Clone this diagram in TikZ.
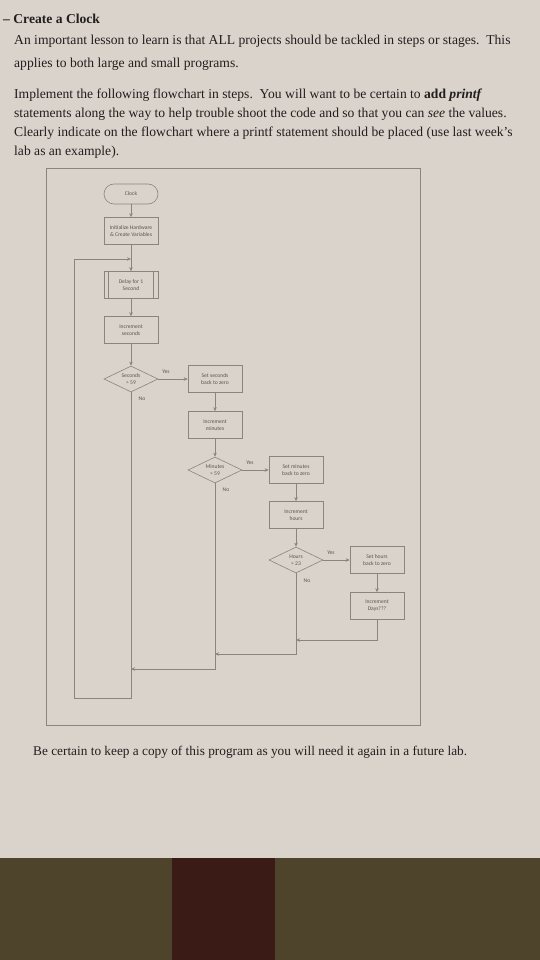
\documentclass[tikz,border=0pt]{standalone}
\usepackage{fontspec}
\setmainfont{Liberation Serif}
\newfontfamily\chartfont{Carlito}
\usetikzlibrary{shapes.geometric, arrows.meta}
\definecolor{paper}{HTML}{D9D3CC}
\definecolor{carpet}{HTML}{4E432B}
\definecolor{rug}{HTML}{3A1B15}
\definecolor{ink}{HTML}{221E1C}
\definecolor{flowgray}{HTML}{8A847E}
\definecolor{flowtext}{HTML}{5A5550}
\begin{document}
\begin{tikzpicture}[x=1pt, y=-1pt,
    box/.style={rectangle, draw=flowgray, line width=0.6pt, minimum width=54pt, minimum height=27pt, align=center, font=\chartfont\fontsize{5.6}{6.8}\selectfont, text=flowtext, inner sep=1pt},
    termbox/.style={box, rounded corners=10pt, minimum height=20pt},
    decbox/.style={box, diamond, aspect=2, minimum width=54pt, minimum height=26pt, inner sep=0pt},
    lbl/.style={font=\chartfont\fontsize{5.6}{6.8}\selectfont, text=flowtext, inner sep=0pt},
    arrow/.style={-{Stealth[length=4pt, width=3.5pt]}, draw=flowgray, line width=0.6pt},
    line/.style={draw=flowgray, line width=0.6pt},
    para/.style={anchor=west, align=left, font=\fontsize{13.6}{19}\selectfont, text=ink, inner sep=0pt}
]
\useasboundingbox (0,0) rectangle (540,960);
% Photo background
\fill[carpet] (0,0) rectangle (540,960);
\fill[rug] (172,850) rectangle (275,960);
\fill[paper] (0,0) rectangle (540,858);
% Page text
\node[para, font=\fontsize{13.6}{16}\selectfont\bfseries] (title) at (3,19) {– Create a Clock};
\node[para, font=\fontsize{13.6}{23}\selectfont] (intro) at (14,53) {An important lesson to learn is that ALL projects should be tackled in steps or stages.\ \ This\\applies to both large and small programs.};
\node[para] (steps) at (14,124) {Implement the following flowchart in steps.\ \ You will want to be certain to \textbf{add \textit{printf}}\\statements along the way to help trouble shoot the code and so that you can \textit{see} the values.\\Clearly indicate on the flowchart where a printf statement should be placed (use last week’s\\lab as an example).};
\node[para, font=\fontsize{13.3}{16}\selectfont] (keep) at (33,752) {Be certain to keep a copy of this program as you will need it again in a future lab.};
% Flowchart frame
\draw[line] (46,168) rectangle (420,725);
% Seconds column
\node[termbox] (clock) at (131,194) {Clock};
\node[box] (init) at (131,231) {Initialize Hardware\\\& Create Variables};
\node[box] (delay) at (131,285) {Delay for 1\\Second};
\draw[line] ([xshift=5pt]delay.north west) -- ([xshift=5pt]delay.south west);
\draw[line] ([xshift=-5pt]delay.north east) -- ([xshift=-5pt]delay.south east);
\node[box] (incsec) at (131,330) {Increment\\seconds};
\node[decbox] (secs) at (131,379) {Seconds\\> 59};
% Minutes column
\node[box] (setsec) at (215,379) {Set seconds\\back to zero};
\node[box] (incmin) at (215,425) {Increment\\minutes};
\node[decbox] (mins) at (215,470) {Minutes\\> 59};
% Hours column
\node[box] (setmin) at (296,470) {Set minutes\\back to zero};
\node[box] (inchr) at (296,515) {Increment\\hours};
\node[decbox] (hrs) at (296,560) {Hours\\> 23};
% Days column
\node[box] (sethr) at (377,560) {Set hours\\back to zero};
\node[box] (days) at (377,606) {Increment\\Days???};
% Yes / No labels
\node[lbl] (ysec) at (166,372) {Yes};
\node[lbl] (nsec) at (142,399) {No};
\node[lbl] (ymin) at (250,463) {Yes};
\node[lbl] (nmin) at (226,490) {No};
\node[lbl] (yhr) at (331,553) {Yes};
\node[lbl] (nhr) at (307,581) {No};
% Junctions of the return paths
\coordinate (jin) at (131,259);
\coordinate (loopbl) at (74,698);
\coordinate (jhr) at (296,640);
\coordinate (jmin) at (215,654);
\coordinate (jsec) at (131,669);
% Connectors
\draw[arrow] (clock) -- (init);
\draw[arrow] (init) -- (delay);
\draw[arrow] (delay) -- (incsec);
\draw[arrow] (incsec) -- (secs);
\draw[arrow] (secs) -- (setsec);
\draw[arrow] (setsec) -- (incmin);
\draw[arrow] (incmin) -- (mins);
\draw[arrow] (mins) -- (setmin);
\draw[arrow] (setmin) -- (inchr);
\draw[arrow] (inchr) -- (hrs);
\draw[arrow] (hrs) -- (sethr);
\draw[arrow] (sethr) -- (days);
\draw[arrow] (days) |- (jhr);
\draw[arrow] (hrs) |- (jmin);
\draw[arrow] (mins) |- (jsec);
\draw[arrow] (secs) |- (loopbl) |- (jin);
\end{tikzpicture}
\end{document}
